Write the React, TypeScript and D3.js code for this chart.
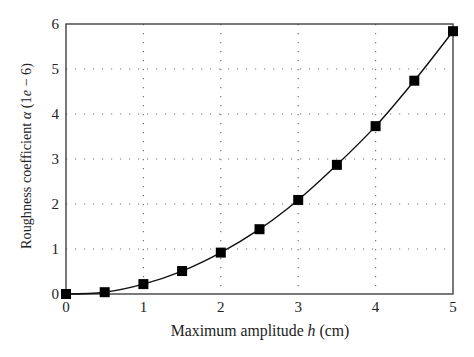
import React from "react";
import * as d3 from "d3";

const hValues = [0, 0.5, 1, 1.5, 2, 2.5, 3, 3.5, 4, 4.5, 5];
const alphaValues = [0, 0.04, 0.22, 0.51, 0.92, 1.44, 2.09, 2.87, 3.73, 4.74, 5.84];
const xTicks = [0, 1, 2, 3, 4, 5];
const yTicks = [0, 1, 2, 3, 4, 5, 6];

export default function App() {
  const W = 474, H = 357;
  const x = d3.scaleLinear().domain([0, 5]).range([66, 453]);
  const y = d3.scaleLinear().domain([0, 6]).range([294, 24]);
  const pts = hValues.map((h, i) => [x(h), y(alphaValues[i])] as [number, number]);
  const line = d3.line().curve(d3.curveCatmullRom.alpha(0.5))(pts) || "";
  const font = "'Liberation Serif', 'DejaVu Serif', serif";
  return (
    <svg width={W} height={H} style={{ position: "absolute", left: 0, top: 0, background: "#fff" }}>
      {xTicks.filter(t => t > 0 && t < 5).map(t => (
        <line key={"gx" + t} x1={x(t)} x2={x(t)} y1={y(6)} y2={y(0)} stroke="#777" strokeWidth={1.2} strokeDasharray="1.2 7.8" />
      ))}
      {yTicks.filter(t => t > 0 && t < 6).map(t => (
        <line key={"gy" + t} x1={x(0)} x2={x(5)} y1={y(t)} y2={y(t)} stroke="#777" strokeWidth={1.2} strokeDasharray="1.2 7.8" />
      ))}
      <rect x={x(0)} y={y(6)} width={x(5) - x(0)} height={y(0) - y(6)} fill="none" stroke="#333" strokeWidth={1.3} />
      <path d={line} fill="none" stroke="#111" strokeWidth={1.4} />
      {pts.map((p, i) => (
        <rect key={i} x={p[0] - 5} y={p[1] - 5} width={10} height={10} fill="#000" />
      ))}
      {xTicks.map(t => (
        <text key={"xt" + t} x={x(t)} y={312} textAnchor="middle" fontFamily={font} fontSize={15} fill="#222">{t}</text>
      ))}
      {yTicks.map(t => (
        <text key={"yt" + t} x={59} y={y(t) + 5} textAnchor="end" fontFamily={font} fontSize={15} fill="#222">{t}</text>
      ))}
      <text x={260} y={336} textAnchor="middle" fontFamily={font} fontSize={15.8} fill="#222">
        Maximum amplitude <tspan fontStyle="italic">h</tspan> (cm)
      </text>
      <text transform={`translate(31,156) rotate(-90)`} textAnchor="middle" fontFamily={font} fontSize={14.2} fill="#222">
        Roughness coefficient <tspan fontStyle="italic">α</tspan> (1<tspan fontStyle="italic">e</tspan> − 6)
      </text>
    </svg>
  );
}
